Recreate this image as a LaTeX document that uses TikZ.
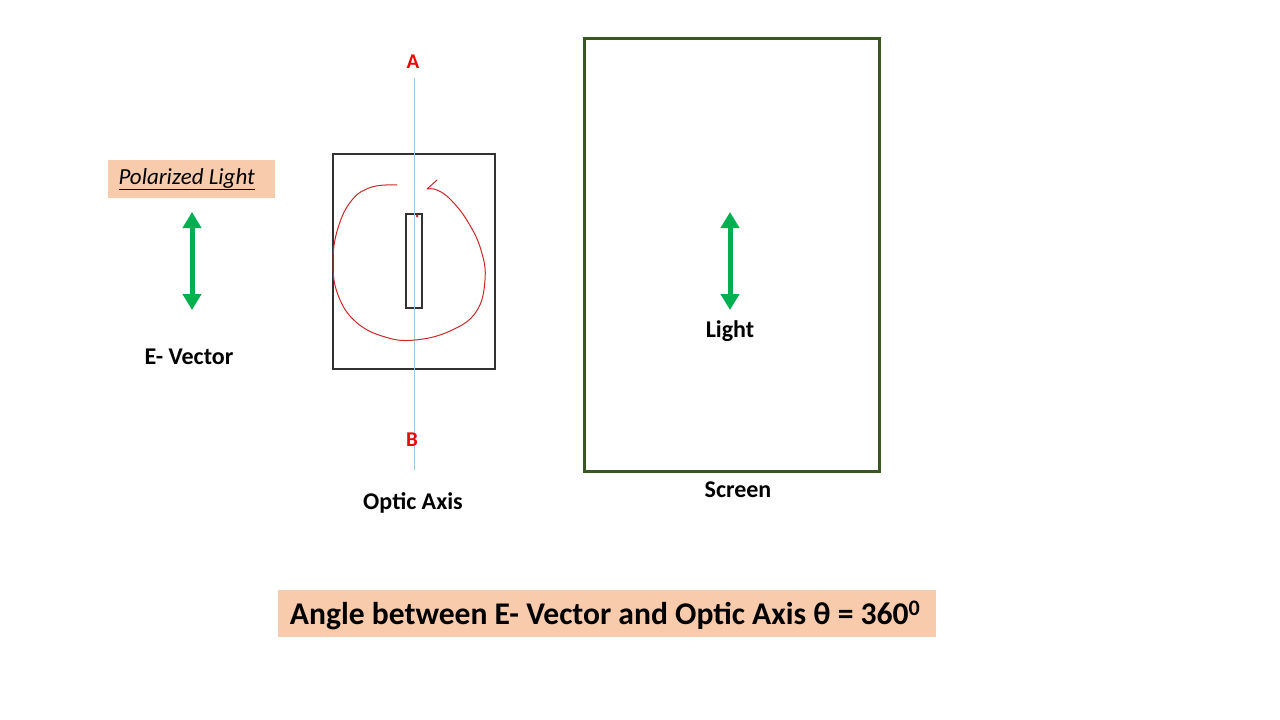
\documentclass[tikz,border=0pt]{standalone}
\usepackage{fontspec}
\setmainfont{Carlito}
\usetikzlibrary{arrows.meta}
\definecolor{peach}{RGB}{248,203,173}
\definecolor{evgreen}{RGB}{0,176,80}
\definecolor{scrgreen}{RGB}{56,87,35}
\definecolor{axisblue}{RGB}{160,200,218}
\definecolor{penred}{RGB}{205,40,40}
\definecolor{ptred}{RGB}{230,10,10}
\definecolor{boxgray}{RGB}{50,50,50}
\tikzset{
  evec/.style={evgreen, line width=5pt, {Triangle[width=18pt,length=16pt]}-{Triangle[width=18pt,length=16pt]}},
  lbl/.style={font=\bfseries\fontsize{24}{28}\selectfont, inner sep=0pt},
  ptlbl/.style={font=\bfseries\fontsize{21}{24}\selectfont, text=ptred, inner sep=0pt},
  peachbox/.style={fill=peach, draw=none},
}
\begin{document}
\begin{tikzpicture}[x=1pt,y=-1pt]
\useasboundingbox (0,0) rectangle (1280,720);
\fill[white] (0,0) rectangle (1280,720);

% Polarized light label
\node[peachbox, minimum width=167pt, minimum height=38pt, anchor=north west] (pl) at (108,160) {};
\node[font=\itshape\fontsize{23}{26}\selectfont, inner sep=0pt] (pltext) at ([xshift=-5pt]pl.center) {\underline{Polarized Light}};

% E-vector arrow
\coordinate (ev1) at (192,212);
\coordinate (ev2) at (192,310);
\draw[evec] (ev1) -- (ev2);
\node[lbl] (evtext) at (189,357) {E- Vector};

% Optic axis
\coordinate (axA) at (414,78);
\coordinate (axB) at (414,470);

% Crystal box
\node[draw=boxgray, line width=2pt, minimum width=162pt, minimum height=215pt, anchor=north west, inner sep=0pt] (crystal) at (332,153) {};
\node[draw=boxgray, line width=2pt, minimum width=16pt, minimum height=94pt, anchor=north west, inner sep=0pt] (slit) at (405,213) {};

\draw[axisblue, line width=1pt] (axA) -- (axB);
\node[ptlbl] (A) at (413,62) {A};
\node[ptlbl] (B) at (412,440) {B};

% Red freehand rotation mark
\draw[penred, line width=1pt, line join=round, line cap=round]
  plot[smooth, tension=0.7] coordinates {(397,185) (372,187) (352,200) (338,228) (333,262) (338,295) (356,322) (385,337) (415,340) (450,331) (476,312) (485,280) (481,250) (468,222) (451,200) (437,190) (427,189)}
  -- (437,180);
\fill[penred] (417,216) circle (1.5pt);

\node[lbl] (oa) at (413,503) {Optic Axis};

% Screen
\node[draw=scrgreen, line width=3pt, minimum width=295pt, minimum height=433pt, anchor=north west, inner sep=0pt] (screen) at (583,37) {};
\coordinate (lt1) at (730,212);
\coordinate (lt2) at (730,310);
\draw[evec] (lt1) -- (lt2);
\node[lbl] (light) at (730,331) {Light};
\node[lbl] (scr) at (738,490) {Screen};

% Bottom caption
\node[peachbox, minimum width=658pt, minimum height=47pt, anchor=north west] (cap) at (278,590) {};
\node[font=\bfseries\fontsize{31.6}{36}\selectfont, inner sep=0pt] (captext) at ([xshift=-2pt,yshift=-2pt]cap.center) {Angle between E- Vector and Optic Axis θ = 360\textsuperscript{0}};
\end{tikzpicture}
\end{document}
